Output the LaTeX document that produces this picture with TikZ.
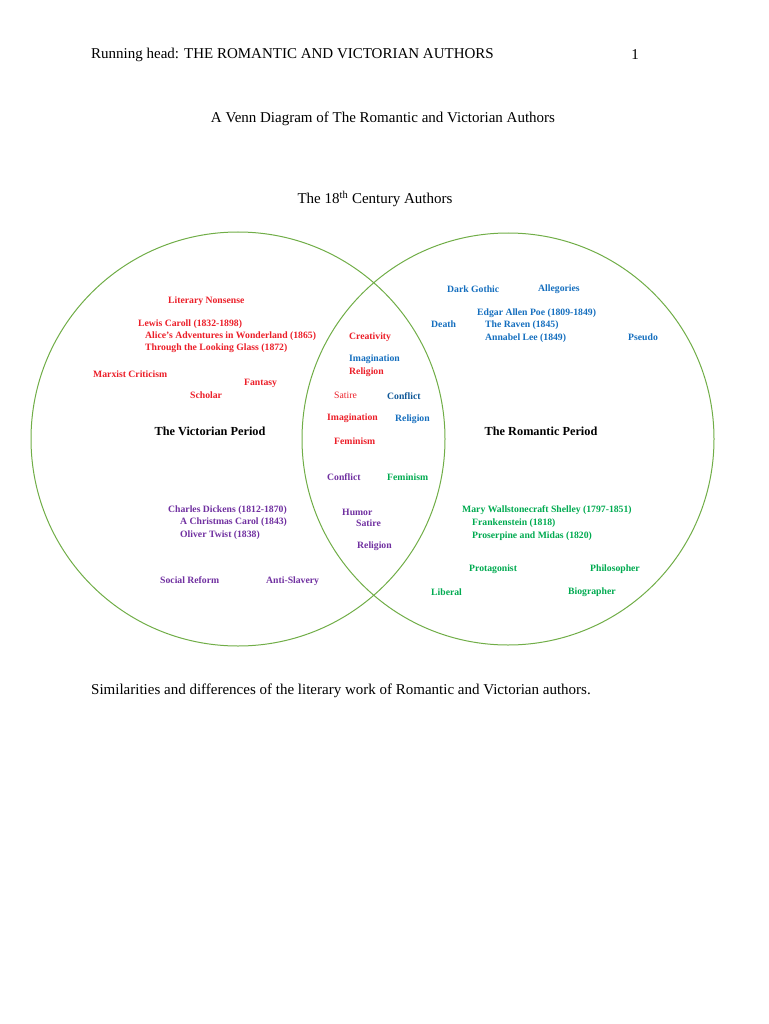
\documentclass[tikz,border=0pt]{standalone}
\usepackage{fontspec}
\setmainfont{Liberation Serif}
\begin{document}
\begin{tikzpicture}[x=1pt,y=-1pt,
  lab/.style={anchor=west,inner sep=0pt,font=\fontsize{9.7}{11}\selectfont\bfseries},
  red/.style={lab,text=vred}, blu/.style={lab,text=vblue}, pur/.style={lab,text=vpurple}, grn/.style={lab,text=vgreen},
  body/.style={inner sep=0pt,font=\fontsize{15}{17}\selectfont},
  period/.style={inner sep=0pt,font=\fontsize{12.3}{14}\selectfont\bfseries}]
\definecolor{vred}{RGB}{235,30,40}
\definecolor{vblue}{RGB}{20,110,190}
\definecolor{vpurple}{RGB}{112,48,160}
\definecolor{vgreen}{RGB}{0,170,80}
\definecolor{ring}{RGB}{112,173,71}
\useasboundingbox (0,0) rectangle (768,1024);
\node[body,anchor=west] (rh) at (91,55) {Running head: THE ROMANTIC AND VICTORIAN AUTHORS};
\node[body] (pg) at (635,55) {1};
\node[body] (title) at (383,119) {A Venn Diagram of The Romantic and Victorian Authors};
\node[body] (sub) at (375,199) {The 18\textsuperscript{th} Century Authors};
\node[draw=ring,line width=1pt,circle,minimum size=414pt] (L) at (238,439) {};
\node[draw=ring,line width=1pt,circle,minimum size=412pt] (R) at (508,439) {};
\node[period] (vp) at (210,431) {The Victorian Period};
\node[period] (rp) at (541,431) {The Romantic Period};
% Victorian
\node[red] (a1) at (168,301) {Literary Nonsense};
\node[red] (a2) at (138,324) {Lewis Caroll (1832-1898)};
\node[red] (a3) at (145,336) {Alice's Adventures in Wonderland (1865)};
\node[red] (a4) at (145,348) {Through the Looking Glass (1872)};
\node[red] (a5) at (93,374) {Marxist Criticism};
\node[red] (a6) at (244,383) {Fantasy};
\node[red] (a7) at (190,395) {Scholar};
\node[pur] (b1) at (168,510) {Charles Dickens (1812-1870)};
\node[pur] (b2) at (180,522) {A Christmas Carol (1843)};
\node[pur] (b3) at (180,535) {Oliver Twist (1838)};
\node[pur] (b4) at (160,580) {Social Reform};
\node[pur] (b5) at (266,581) {Anti-Slavery};
% middle
\node[red] (c1) at (349,337) {Creativity};
\node[blu] (c2) at (349,359) {Imagination};
\node[red] (c3) at (349,372) {Religion};
\node[lab,text=vred,font=\fontsize{9.7}{11}\selectfont] (c4) at (334,395) {Satire};
\node[lab,text=vblue!80!black] (c5) at (387,396) {Conflict};
\node[red] (c6) at (327,418) {Imagination};
\node[blu] (c7) at (395,419) {Religion};
\node[red] (c8) at (334,441) {Feminism};
\node[pur] (c9) at (327,477) {Conflict};
\node[grn] (c10) at (387,477) {Feminism};
\node[pur] (c11) at (342,512) {Humor};
\node[pur] (c12) at (356,523) {Satire};
\node[pur] (c13) at (357,546) {Religion};
% Romantic
\node[blu] (d1) at (447,289) {Dark Gothic};
\node[blu] (d2) at (538,289) {Allegories};
\node[blu] (d3) at (477,313) {Edgar Allen Poe (1809-1849)};
\node[blu] (d4) at (431,324) {Death};
\node[blu] (d5) at (485,325) {The Raven (1845)};
\node[blu] (d6) at (485,338) {Annabel Lee (1849)};
\node[blu] (d7) at (628,337) {Pseudo};
\node[grn] (e1) at (462,510) {Mary Wallstonecraft Shelley (1797-1851)};
\node[grn] (e2) at (472,523) {Frankenstein (1818)};
\node[grn] (e3) at (472,536) {Proserpine and Midas (1820)};
\node[grn] (e4) at (469,569) {Protagonist};
\node[grn] (e5) at (590,569) {Philosopher};
\node[grn] (e6) at (431,592) {Liberal};
\node[grn] (e7) at (568,592) {Biographer};
\node[body,anchor=west] (cap) at (91,691) {Similarities and differences of the literary work of Romantic and Victorian authors.};
\end{tikzpicture}
\end{document}
